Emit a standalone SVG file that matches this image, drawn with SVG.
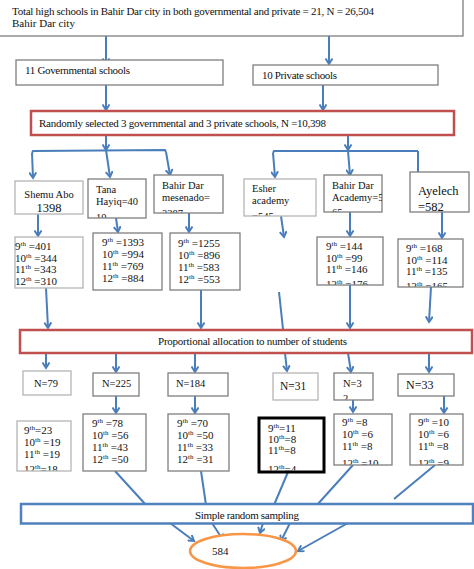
<svg xmlns="http://www.w3.org/2000/svg" width="474" height="569" viewBox="0 0 474 569">
<style>
text{font-family:"Liberation Serif","Times New Roman",serif;fill:#111;font-size:11px}
.box{fill:#fff;stroke:#7f7f7f;stroke-width:1.3}
.lt{fill:#fff;stroke:#b5b5b5;stroke-width:1.3}
.red{fill:#fff;stroke:#c0504d;stroke-width:2.5}
.blue{fill:#fff;stroke:#4f81bd;stroke-width:2.5}
.thick{fill:#fff;stroke:#000;stroke-width:3}
.c{fill:none;stroke:#4a7ebb;stroke-width:2}
.a{marker-end:url(#ah)}
.s{font-size:10.5px}
.b{font-size:12.5px}
.sup{font-size:7px}
</style>
<defs>
<marker id="ah" markerWidth="8" markerHeight="8" refX="6" refY="4" orient="auto" markerUnits="userSpaceOnUse">
<path d="M0.5,0.5 L6,4 L0.5,7.5" fill="none" stroke="#4a7ebb" stroke-width="2"/>
</marker>
<clipPath id="c-tana"><rect x="88" y="179" width="58" height="38.5"/></clipPath>
<clipPath id="c-mes"><rect x="154" y="175" width="69" height="37.5"/></clipPath>
<clipPath id="c-esh"><rect x="244" y="179" width="72" height="36.5"/></clipPath>
<clipPath id="c-bda"><rect x="324" y="175" width="58" height="36.5"/></clipPath>
<clipPath id="c-ayl"><rect x="410" y="172" width="59" height="39.5"/></clipPath>
<clipPath id="c-gbda"><rect x="317" y="237" width="66" height="47.5"/></clipPath>
<clipPath id="c-gayl"><rect x="398" y="239" width="65" height="47.5"/></clipPath>
<clipPath id="c-n3"><rect x="334" y="373" width="39" height="26.5"/></clipPath>
<clipPath id="c-f1"><rect x="17" y="421" width="54" height="49.5"/></clipPath>
<clipPath id="c-f4"><rect x="259" y="418" width="65" height="52.5"/></clipPath>
<clipPath id="c-f5"><rect x="334" y="414" width="58" height="50.5"/></clipPath>
<clipPath id="c-f6"><rect x="410" y="414" width="53" height="50.5"/></clipPath>
</defs>
<rect width="474" height="569" fill="#fff"/>

<g id="connectors">
<path class="c a" d="M106,36 V64"/>
<path class="c a" d="M329,36 V64"/>
<path class="c a" d="M106,85 V110"/>
<path class="c a" d="M323,85 V110"/>
<path class="c a" d="M106,135 V150"/>
<path class="c" d="M32,153 L33,151 L165,150 L166,152"/>
<path class="c a" d="M32,153 L33,178"/>
<path class="c a" d="M106,150 L110,177"/>
<path class="c a" d="M166,152 L170,175"/>
<path class="c a" d="M348,135 V150"/>
<path class="c" d="M273,153 L274,151 L418,151"/>
<path class="c a" d="M273,153 L275,177"/>
<path class="c a" d="M348,151 L350,175"/>
<path class="c a" d="M418,151 V178"/>
<path class="c a" d="M38,214 V236"/>
<path class="c a" d="M116,218 L118,232"/>
<path class="c a" d="M189,213 V232"/>
<path class="c a" d="M281,216 L284,237"/>
<path class="c a" d="M350,212 V236"/>
<path class="c a" d="M442,212 V238"/>
<path class="c a" d="M46,288 L48,328"/>
<path class="c a" d="M201,290 V328"/>
<path class="c" d="M279,292 L283,329"/>
<path class="c a" d="M350,285 V328"/>
<path class="c a" d="M431,287 L429,322"/>
<path class="c a" d="M46,353 V368"/>
<path class="c a" d="M116,353 V372"/>
<path class="c a" d="M195,353 V372"/>
<path class="c a" d="M285,353 L287,371"/>
<path class="c a" d="M348,353 L351,372"/>
<path class="c a" d="M429,353 V372"/>
<path class="c a" d="M116,396 V413"/>
<path class="c a" d="M195,396 V413"/>
<path class="c a" d="M353,400 V412"/>
<path class="c a" d="M444,396 V413"/>
<path class="c" d="M115,471 L146,505"/>
<path class="c" d="M201,471 L206,505"/>
<path class="c" d="M288,472 L274,505"/>
<path class="c" d="M353,465 L317,505"/>
<path class="c" d="M435,465 L394,499"/>
<path class="c a" d="M170,523 L194,541"/>
<path class="c a" d="M212,523 L223,540"/>
<path class="c a" d="M263,523 L260,533"/>
<path class="c a" d="M290,523 L281,541"/>
<path class="c a" d="M348,523 L298,551"/>
</g>

<g id="total">
<rect class="box" x="-2" y="-2" width="465" height="38"/>
<text x="12" y="15" textLength="362">Total high schools in Bahir Dar city in both governmental and private = 21, N = 26,504</text>
<text x="12" y="27">Bahir Dar city</text>
</g>
<g id="gov">
<rect class="box" x="16" y="60" width="207" height="25"/>
<text x="25" y="74" textLength="105">11 Governmental schools</text>
</g>
<g id="priv">
<rect class="box" x="253" y="65" width="185" height="20"/>
<text x="262" y="79" textLength="75">10 Private schools</text>
</g>
<g id="selected">
<rect class="red" x="31" y="111" width="423" height="24"/>
<text x="39" y="127" textLength="287">Randomly selected 3 governmental and 3 private schools, N =10,398</text>
</g>

<g id="shemu">
<rect class="lt" x="15" y="181" width="68" height="33"/>
<text class="s" x="49" y="198" text-anchor="middle">Shemu Abo</text>
<text class="b" x="49" y="212" text-anchor="middle">1398</text>
</g>
<g id="tana">
<rect class="box" x="88" y="179" width="58" height="39"/>
<g clip-path="url(#c-tana)">
<text class="s" x="96" y="193">Tana</text>
<text class="s" x="96" y="205">Hayiq=40</text>
<text class="s" x="96" y="221">10</text>
</g>
</g>
<g id="mesenado">
<rect class="box" x="154" y="175" width="69" height="38"/>
<g clip-path="url(#c-mes)">
<text class="s" x="162" y="189">Bahir Dar</text>
<text class="s" x="162" y="201">mesenado=</text>
<text class="s" x="162" y="217">3287</text>
</g>
</g>
<g id="esher">
<rect class="lt" x="244" y="179" width="72" height="37"/>
<g clip-path="url(#c-esh)">
<text class="s" x="252" y="192">Esher</text>
<text class="s" x="252" y="204">academy</text>
<text class="s" x="252" y="220">=545</text>
</g>
</g>
<g id="bdacademy">
<rect class="box" x="324" y="175" width="58" height="37"/>
<g clip-path="url(#c-bda)">
<text class="s" x="332" y="189">Bahir Dar</text>
<text class="s" x="332" y="201">Academy=5</text>
<text class="s" x="332" y="216">65</text>
</g>
</g>
<g id="ayelech">
<rect class="box" x="410" y="172" width="59" height="40"/>
<g clip-path="url(#c-ayl)">
<text class="b" x="418" y="195">Ayelech</text>
<text class="b" x="418" y="211">=582</text>
</g>
</g>

<g id="g-shemu">
<rect class="lt" x="15" y="237" width="68" height="51"/>
<text x="15" y="250">9<tspan class="sup" dy="-4">th</tspan><tspan dy="4"> =401</tspan></text>
<text x="15" y="262">10<tspan class="sup" dy="-4">th</tspan><tspan dy="4"> =344</tspan></text>
<text x="15" y="273">11<tspan class="sup" dy="-4">th</tspan><tspan dy="4"> =343</tspan></text>
<text x="15" y="285">12<tspan class="sup" dy="-4">th</tspan><tspan dy="4"> =310</tspan></text>
</g>
<g id="g-tana">
<rect class="box" x="93" y="233" width="69" height="57"/>
<text x="102" y="246">9<tspan class="sup" dy="-4">th</tspan><tspan dy="4"> =1393</tspan></text>
<text x="102" y="258">10<tspan class="sup" dy="-4">th</tspan><tspan dy="4"> =994</tspan></text>
<text x="102" y="270">11<tspan class="sup" dy="-4">th</tspan><tspan dy="4"> =769</tspan></text>
<text x="102" y="282">12<tspan class="sup" dy="-4">th</tspan><tspan dy="4"> =884</tspan></text>
</g>
<g id="g-mesenado">
<rect class="box" x="170" y="233" width="70" height="57"/>
<text x="178" y="247">9<tspan class="sup" dy="-4">th</tspan><tspan dy="4"> =1255</tspan></text>
<text x="178" y="259">10<tspan class="sup" dy="-4">th</tspan><tspan dy="4"> =896</tspan></text>
<text x="178" y="271">11<tspan class="sup" dy="-4">th</tspan><tspan dy="4"> =583</tspan></text>
<text x="178" y="283">12<tspan class="sup" dy="-4">th</tspan><tspan dy="4"> =553</tspan></text>
</g>
<g id="g-bdacademy">
<rect class="box" x="317" y="237" width="66" height="48"/>
<g clip-path="url(#c-gbda)">
<text x="326" y="250">9<tspan class="sup" dy="-4">th</tspan><tspan dy="4"> =144</tspan></text>
<text x="326" y="262">10<tspan class="sup" dy="-4">th</tspan><tspan dy="4"> =99</tspan></text>
<text x="326" y="273">11<tspan class="sup" dy="-4">th</tspan><tspan dy="4"> =146</tspan></text>
<text x="326" y="288">12<tspan class="sup" dy="-4">th</tspan><tspan dy="4"> =176</tspan></text>
</g>
</g>
<g id="g-ayelech">
<rect class="box" x="398" y="239" width="65" height="48"/>
<g clip-path="url(#c-gayl)">
<text x="406" y="252">9<tspan class="sup" dy="-4">th</tspan><tspan dy="4"> =168</tspan></text>
<text x="406" y="264">10<tspan class="sup" dy="-4">th</tspan><tspan dy="4"> =114</tspan></text>
<text x="406" y="275">11<tspan class="sup" dy="-4">th</tspan><tspan dy="4"> =135</tspan></text>
<text x="406" y="290">12<tspan class="sup" dy="-4">th</tspan><tspan dy="4"> =165</tspan></text>
</g>
</g>

<g id="proportional">
<rect class="red" x="20" y="330" width="452" height="23"/>
<text x="252.5" y="345" text-anchor="middle" textLength="189">Proportional allocation to number of students</text>
</g>

<g id="n79">
<rect class="lt" x="23" y="371" width="48" height="24"/>
<text class="s" x="34" y="387">N=79</text>
</g>
<g id="n225">
<rect class="box" x="93" y="373" width="46" height="23"/>
<text class="s" x="102" y="387">N=225</text>
</g>
<g id="n184">
<rect class="box" x="168" y="373" width="60" height="23"/>
<text class="s" x="176" y="387">N=184</text>
</g>
<g id="n31">
<rect class="lt" x="273" y="373" width="45" height="27"/>
<text x="280" y="390" style="font-size:11.5px">N=31</text>
</g>
<g id="n32">
<rect class="box" x="334" y="373" width="39" height="27"/>
<g clip-path="url(#c-n3)">
<text class="s" x="343" y="387">N=3</text>
<text class="s" x="343" y="402">2</text>
</g>
</g>
<g id="n33">
<rect class="box" x="398" y="374" width="56" height="22"/>
<text x="406" y="389" style="font-size:12px">N=33</text>
</g>

<g id="f-shemu">
<rect class="lt" x="17" y="421" width="54" height="50"/>
<g clip-path="url(#c-f1)">
<text x="24" y="434">9<tspan class="sup" dy="-4">th</tspan><tspan dy="4">=23</tspan></text>
<text x="24" y="446">10<tspan class="sup" dy="-4">th</tspan><tspan dy="4"> =19</tspan></text>
<text x="24" y="458">11<tspan class="sup" dy="-4">th</tspan><tspan dy="4"> =19</tspan></text>
<text x="24" y="473">12<tspan class="sup" dy="-4">th</tspan><tspan dy="4">=18</tspan></text>
</g>
</g>
<g id="f-tana">
<rect class="box" x="83" y="414" width="63" height="57"/>
<text x="92" y="427">9<tspan class="sup" dy="-4">th</tspan><tspan dy="4"> =78</tspan></text>
<text x="92" y="439">10<tspan class="sup" dy="-4">th</tspan><tspan dy="4"> =56</tspan></text>
<text x="92" y="451">11<tspan class="sup" dy="-4">th</tspan><tspan dy="4"> =43</tspan></text>
<text x="92" y="463">12<tspan class="sup" dy="-4">th</tspan><tspan dy="4"> =50</tspan></text>
</g>
<g id="f-mesenado">
<rect class="box" x="168" y="414" width="61" height="57"/>
<text x="177" y="427">9<tspan class="sup" dy="-4">th</tspan><tspan dy="4"> =70</tspan></text>
<text x="177" y="439">10<tspan class="sup" dy="-4">th</tspan><tspan dy="4"> =50</tspan></text>
<text x="177" y="451">11<tspan class="sup" dy="-4">th</tspan><tspan dy="4"> =33</tspan></text>
<text x="177" y="463">12<tspan class="sup" dy="-4">th</tspan><tspan dy="4"> =31</tspan></text>
</g>
<g id="f-esher">
<rect class="thick" x="259" y="418" width="65" height="54"/>
<g clip-path="url(#c-f4)">
<text x="268" y="432">9<tspan class="sup" dy="-4">th</tspan><tspan dy="4">=11</tspan></text>
<text x="268" y="443">10<tspan class="sup" dy="-4">th</tspan><tspan dy="4">=8</tspan></text>
<text x="268" y="454">11<tspan class="sup" dy="-4">th</tspan><tspan dy="4">=8</tspan></text>
<text x="268" y="473">12<tspan class="sup" dy="-4">th</tspan><tspan dy="4">=4</tspan></text>
</g>
</g>
<g id="f-bdacademy">
<rect class="box" x="334" y="414" width="58" height="51"/>
<g clip-path="url(#c-f5)">
<text x="342" y="426">9<tspan class="sup" dy="-4">th</tspan><tspan dy="4"> =8</tspan></text>
<text x="342" y="438">10<tspan class="sup" dy="-4">th</tspan><tspan dy="4"> =6</tspan></text>
<text x="342" y="450">11<tspan class="sup" dy="-4">th</tspan><tspan dy="4"> =8</tspan></text>
<text x="342" y="467">12<tspan class="sup" dy="-4">th</tspan><tspan dy="4"> =10</tspan></text>
</g>
</g>
<g id="f-ayelech">
<rect class="box" x="410" y="414" width="53" height="51"/>
<g clip-path="url(#c-f6)">
<text x="418" y="426">9<tspan class="sup" dy="-4">th</tspan><tspan dy="4"> =10</tspan></text>
<text x="418" y="438">10<tspan class="sup" dy="-4">th</tspan><tspan dy="4"> =6</tspan></text>
<text x="418" y="450">11<tspan class="sup" dy="-4">th</tspan><tspan dy="4"> =8</tspan></text>
<text x="418" y="467">12<tspan class="sup" dy="-4">th</tspan><tspan dy="4"> =9</tspan></text>
</g>
</g>

<g id="srs">
<rect class="blue" x="21" y="504" width="452" height="19.5"/>
<text x="247" y="519" text-anchor="middle" textLength="104">Simple random sampling</text>
</g>
<g id="total584">
<ellipse cx="243" cy="551" rx="53" ry="17" fill="#fff" stroke="#f79646" stroke-width="2.5"/>
<text x="212" y="555">584</text>
</g>
</svg>
